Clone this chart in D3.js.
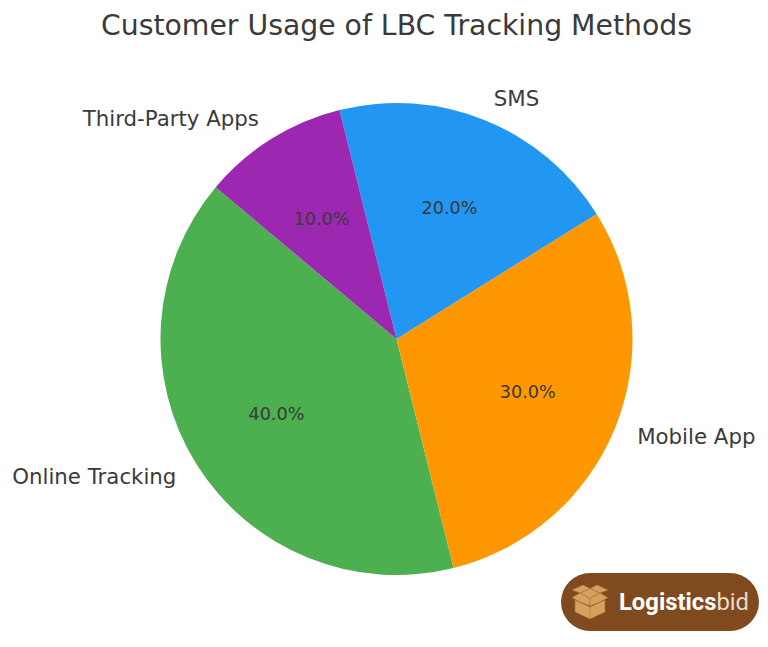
<!DOCTYPE html>
<html>
<head>
<meta charset="utf-8">
<script src="https://cdn.jsdelivr.net/npm/d3@7/dist/d3.min.js"></script>
<style>
  html, body { margin: 0; background: #fff; }
  svg { display: block; }
  text { font-family: "DejaVu Sans", sans-serif; fill: #3a3a3a; }
</style>
</head>
<body>
<svg id="chart" width="768" height="647"></svg>
<script>
const categories = ['Online Tracking', 'Mobile App', 'SMS', 'Third-Party Apps'];
const shares = [40, 30, 20, 10];
const colors = ['#4CAF50', '#FF9800', '#2196F3', '#9C27B0'];

const cx = 396.5, cy = 339, R = 236;
const deg = Math.PI / 180;

const svg = d3.select('#chart');

svg.append('text')
  .attr('x', 396.5).attr('y', 35)
  .attr('text-anchor', 'middle')
  .attr('font-size', '28.3px')
  .text('Customer Usage of LBC Tracking Methods');

// ── Pie ───────────────────────────────────────────────────────────────────────

// wedges run counter-clockwise, first one starts at 10 o'clock-ish
const pie = d3.pie().sort(null)
  .startAngle(-50 * deg)
  .endAngle(-410 * deg);

const rows = categories.map((c, i) => ({ name: c, value: shares[i], color: colors[i] }));
const slices = pie.value(d => d.value)(rows);

const arc = d3.arc().innerRadius(0).outerRadius(R);
const labelArc = d3.arc().innerRadius(R * 1.1).outerRadius(R * 1.1);
const pctArc = d3.arc().innerRadius(R * 0.6).outerRadius(R * 0.6);

const g = svg.append('g').attr('transform', `translate(${cx},${cy})`);

g.selectAll('path').data(slices).join('path')
  .attr('d', arc)
  .attr('fill', d => d.data.color);

g.selectAll('text.label').data(slices).join('text')
  .attr('class', 'label')
  .attr('x', d => labelArc.centroid(d)[0])
  .attr('y', d => labelArc.centroid(d)[1])
  .attr('dy', '0.35em')
  .attr('text-anchor', d => labelArc.centroid(d)[0] > 0 ? 'start' : 'end')
  .attr('font-size', '21.3px')
  .text(d => d.data.name);

g.selectAll('text.pct').data(slices).join('text')
  .attr('class', 'pct')
  .attr('x', d => pctArc.centroid(d)[0])
  .attr('y', d => pctArc.centroid(d)[1])
  .attr('dy', '0.33em')
  .attr('text-anchor', 'middle')
  .attr('font-size', '17.6px')
  .text(d => d.data.value.toFixed(1) + '%');

// ── Logo badge ────────────────────────────────────────────────────────────────

const logo = svg.append('g').attr('transform', 'translate(561,573)');

logo.append('rect')
  .attr('width', 198).attr('height', 58).attr('rx', 29)
  .attr('fill', '#7F4A1E');

const box = logo.append('g')
  .attr('fill', '#D6A15E')
  .attr('stroke', '#A87438')
  .attr('stroke-width', 0.6)
  .attr('stroke-linejoin', 'round');
box.append('path').attr('d', 'M14,27 L29,34 L44,27 L44,39 L29,46 L14,39 Z'); // body
box.append('path').attr('d', 'M19,20 L29,15.5 L39,20 L29,25.5 Z');           // inside
box.append('path').attr('d', 'M11,17 L22,12 L29,15.5 L19,20 Z');             // back flaps
box.append('path').attr('d', 'M47,17 L36,12 L29,15.5 L39,20 Z');
box.append('path').attr('d', 'M19,20 L29,25.5 L29,33 L18,28.5 L11,24.5 Z');  // front flaps
box.append('path').attr('d', 'M39,20 L29,25.5 L29,33 L40,28.5 L47,24.5 Z');
box.append('path').attr('d', 'M29,33 L29,46').attr('fill', 'none');

const word = logo.append('text')
  .attr('x', 58).attr('y', 37)
  .style('font-family', 'Roboto, sans-serif')
  .attr('font-size', '23.8px');
word.append('tspan').style('fill', '#fff').attr('font-weight', 700).text('Logistics');
word.append('tspan').style('fill', '#EADCCB').attr('font-weight', 400).text('bid');
</script>
</body>
</html>
